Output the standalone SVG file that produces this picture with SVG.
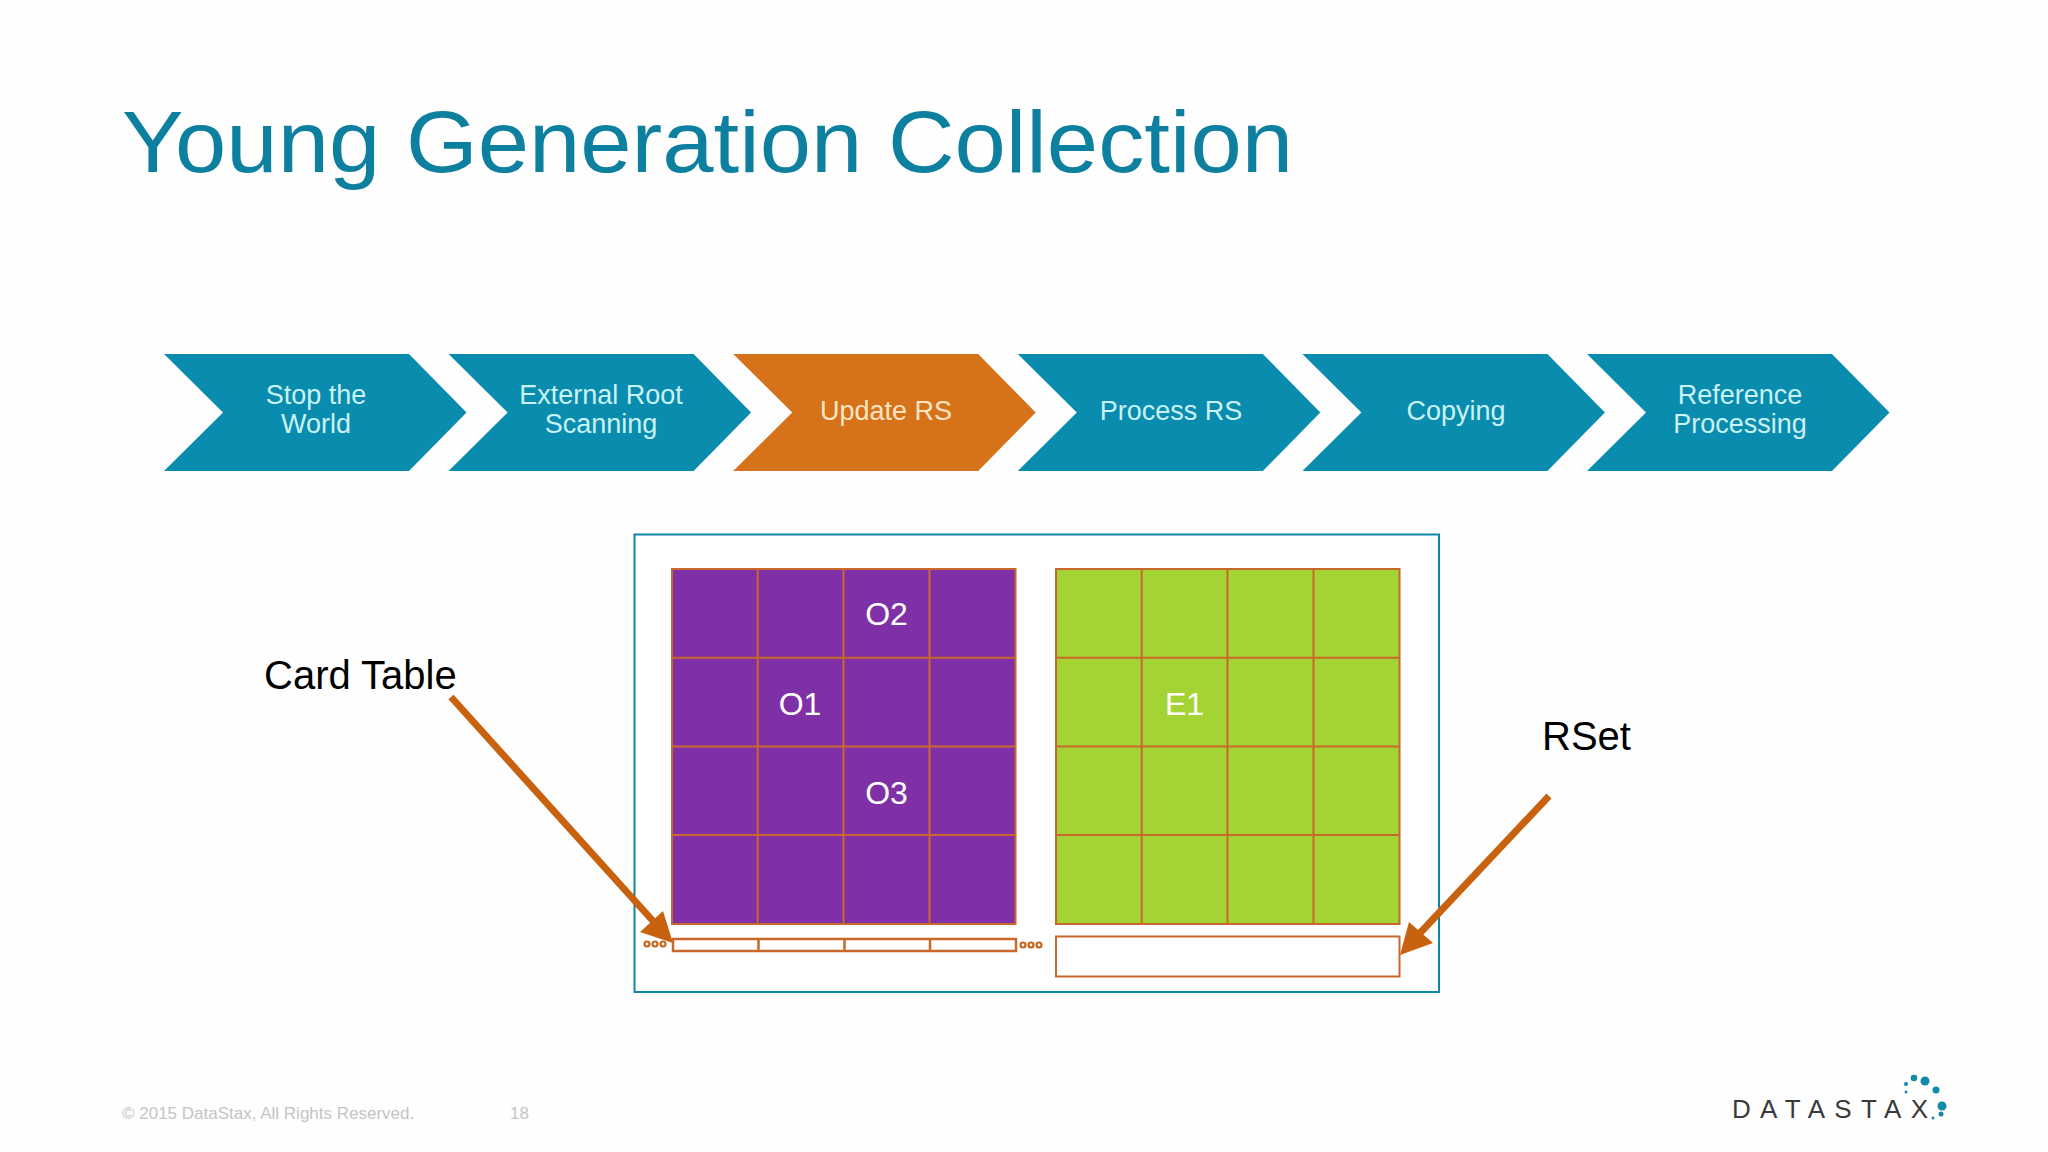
<svg xmlns="http://www.w3.org/2000/svg" width="2048" height="1152" viewBox="0 0 2048 1152">
<style>
text{font-family:"Liberation Sans",Arial,sans-serif}
.chev{fill:#0a8cae}.chevo{fill:#d6731a}
.ct{fill:#c9f2f5;font-size:27px;text-anchor:middle}
.cto{fill:#fbe3c4;font-size:27px;text-anchor:middle}
.cell{stroke:#c9682a;stroke-width:2;fill:none}
.w{fill:#fff;font-size:32px;text-anchor:middle}
.lab{fill:#000;font-size:40px}
.dot{fill:none;stroke:#c9641a;stroke-width:2.2}
.arrow{fill:#c9620f}
.ld{fill:#128aa8}
</style>
<defs>
<polygon id="chevron" points="0,0 245,0 302.500,58.500 245,117 0,117 59,58.500"/>
<g id="grid">
<rect class="cell" x="0" y="0" width="343.500" height="355"/>
<path class="cell" d="M85.700 0V355M171.500 0V355M257.500 0V355M0 88.700H343.500M0 177.500H343.500M0 266H343.500"/>
</g>
</defs>
<rect width="2048" height="1152" fill="#fefefe"/>
<text x="122" y="172" font-size="88" fill="#0d7f9f" textLength="1171" lengthAdjust="spacingAndGlyphs">Young Generation Collection</text>
<g id="step-stop-the-world"><use href="#chevron" x="164" y="354" class="chev"/><text class="ct" x="316" y="404">Stop the</text><text class="ct" x="316" y="433">World</text></g>
<g id="step-external-root"><use href="#chevron" x="448.600" y="354" class="chev"/><text class="ct" x="601" y="404">External Root</text><text class="ct" x="601" y="433">Scanning</text></g>
<g id="step-update-rs"><use href="#chevron" x="733.200" y="354" class="chevo"/><text class="cto" x="886" y="420">Update RS</text></g>
<g id="step-process-rs"><use href="#chevron" x="1017.800" y="354" class="chev"/><text class="ct" x="1171" y="420">Process RS</text></g>
<g id="step-copying"><use href="#chevron" x="1302.400" y="354" class="chev"/><text class="ct" x="1456" y="420">Copying</text></g>
<g id="step-reference"><use href="#chevron" x="1587" y="354" class="chev"/><text class="ct" x="1740" y="404">Reference</text><text class="ct" x="1740" y="433">Processing</text></g>
<rect id="frame" x="634.500" y="534.500" width="804.500" height="457.500" fill="#fff" stroke="#0f86a6" stroke-width="2"/>
<g id="old-regions">
<rect x="672" y="569" width="343.500" height="355" fill="#7f30a6"/>
<use href="#grid" x="672" y="569"/>
<text class="w" x="886.500" y="625">O2</text><text class="w" x="800" y="715">O1</text><text class="w" x="886.500" y="804">O3</text>
</g>
<g id="eden-regions">
<rect x="1056" y="569" width="343.500" height="355" fill="#a4d433"/>
<use href="#grid" x="1056" y="569"/>
<text class="w" x="1184.500" y="715">E1</text>
</g>
<g id="card-table">
<rect x="673" y="939" width="343" height="12" fill="#fff" stroke="#c9682a" stroke-width="2.500"/>
<path d="M758.500 939V951M844.500 939V951M930 939V951" stroke="#c9682a" stroke-width="2.500"/>
<circle class="dot" cx="647" cy="944" r="2.500"/><circle class="dot" cx="655" cy="944" r="2.500"/><circle class="dot" cx="663" cy="944" r="2.500"/>
<circle class="dot" cx="1023" cy="945" r="2.500"/><circle class="dot" cx="1031" cy="945" r="2.500"/><circle class="dot" cx="1039" cy="945" r="2.500"/>
</g>
<g id="rset"><rect x="1056" y="936.500" width="343.500" height="40" fill="#fff" stroke="#c9682a" stroke-width="2"/></g>
<g id="label-card-table"><text class="lab" x="264" y="689">Card Table</text></g>
<g id="label-rset"><text class="lab" x="1542" y="750">RSet</text></g>
<g id="connectors">
<line x1="451" y1="697" x2="653" y2="921" stroke="#c9620f" stroke-width="7"/>
<polygon class="arrow" points="673,943 640,932 663,911"/>
<line x1="1549" y1="796" x2="1420" y2="933" stroke="#c9620f" stroke-width="7"/>
<polygon class="arrow" points="1400,955 1409,922 1433,943"/>
</g>
<g id="footer">
<text x="122" y="1119" font-size="17" fill="#c4c4c4">© 2015 DataStax, All Rights Reserved.</text>
<text x="510" y="1119" font-size="17" fill="#c4c4c4">18</text>
</g>
<g id="logo">
<text x="1732" y="1118" font-size="26" fill="#3a3a3a" textLength="196" font-family="Liberation Mono">DATASTAX</text>
<circle class="ld" cx="1914" cy="1078" r="3.300"/><circle class="ld" cx="1925" cy="1079" r="0" />
<circle class="ld" cx="1906" cy="1084" r="2"/><circle class="ld" cx="1925" cy="1081" r="4.500"/><circle class="ld" cx="1906" cy="1092" r="1.500"/>
<circle class="ld" cx="1936" cy="1090" r="3.500"/><circle class="ld" cx="1942" cy="1106" r="4.500"/><circle class="ld" cx="1941" cy="1114" r="0"/>
<circle class="ld" cx="1941" cy="1114" r="2.500"/><circle class="ld" cx="1933" cy="1118" r="1.500"/>
</g>
</svg>
